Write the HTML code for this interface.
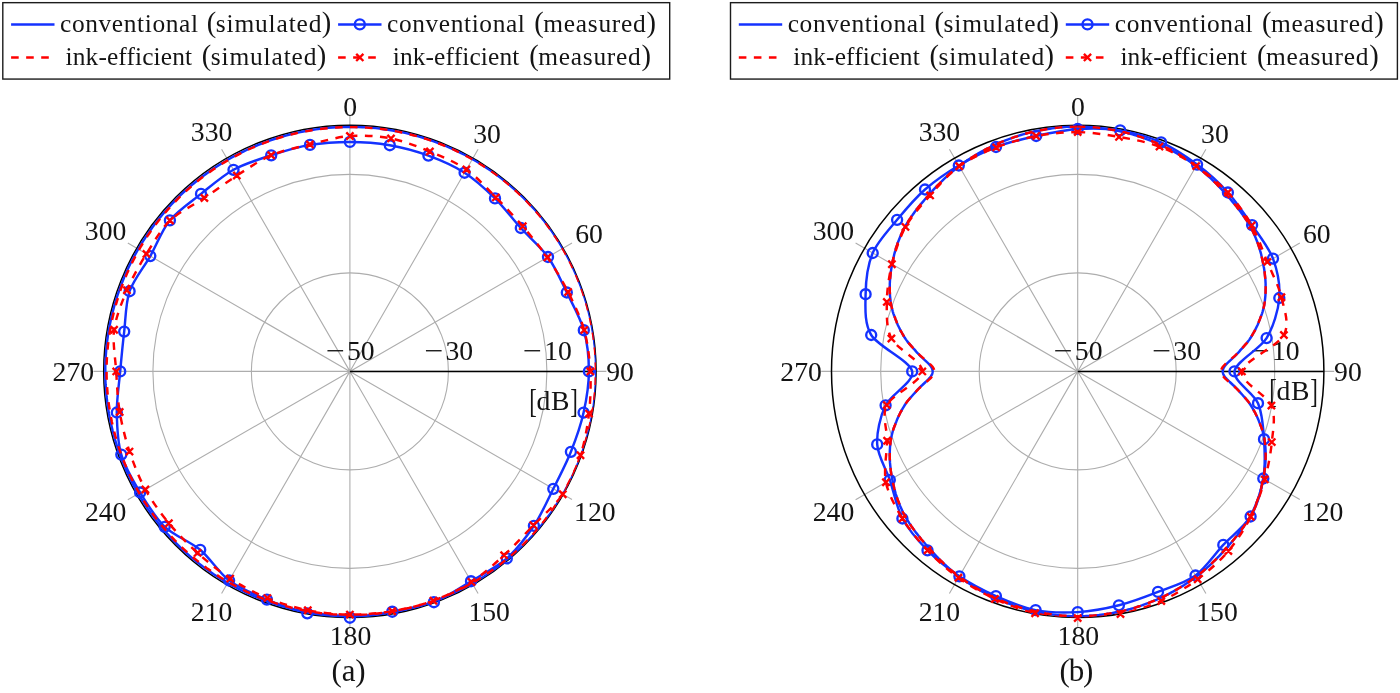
<!DOCTYPE html>
<html lang="en"><head><meta charset="utf-8"><title>Radiation patterns</title>
<style>
html,body{margin:0;padding:0;background:#fff;}
body{width:1400px;height:693px;overflow:hidden;}
svg{display:block;}
text{font-family:"Liberation Serif","DejaVu Serif",serif;fill:#141414;}
.lg text{font-size:25.4px;}
.tk text{font-size:27.7px;}
.cap{font-size:31px;}
</style></head><body>
<svg width="1400" height="693" viewBox="0 0 1400 693">
<rect width="1400" height="693" fill="#fff"/>
<g id="legend-a">
<rect x="2.8" y="2.67" width="666.9" height="76.4" fill="#fff" stroke="#1c1c1c" stroke-width="1.4"/>
<line x1="11.1" y1="24.4" x2="54.5" y2="24.4" stroke="#1432ff" stroke-width="2.45"/>
<line x1="11.1" y1="57.4" x2="54.5" y2="57.4" stroke="#ff0000" stroke-width="2.45" stroke-dasharray="7.6 7.45"/>
<line x1="338.1" y1="24.4" x2="381.5" y2="24.4" stroke="#1432ff" stroke-width="2.45"/>
<circle cx="359.8" cy="24.4" r="5" fill="none" stroke="#1432ff" stroke-width="2.35"/>
<line x1="338.1" y1="57.4" x2="381.5" y2="57.4" stroke="#ff0000" stroke-width="2.45" stroke-dasharray="7.6 7.45"/>
<path d="M356.2 53.8L363.4 61M356.2 61L363.4 53.8" stroke="#ff0000" stroke-width="2.35" fill="none"/>
<g class="lg">
<text><tspan x="60" y="32.0" textLength="138" lengthAdjust="spacing">conventional</tspan> <tspan x="206.7" y="32" font-size="28.5">(</tspan><tspan x="215.8" y="32.0" textLength="105.6" lengthAdjust="spacing">simulated</tspan><tspan x="321.8" y="32" font-size="28.5">)</tspan></text>
<text><tspan x="387.1" y="32.0" textLength="137.8" lengthAdjust="spacing">conventional</tspan> <tspan x="534.2" y="32" font-size="28.5">(</tspan><tspan x="543.2" y="32.0" textLength="102.6" lengthAdjust="spacing">measured</tspan><tspan x="646.6" y="32" font-size="28.5">)</tspan></text>
<text><tspan x="65.6" y="64.9" textLength="126.4" lengthAdjust="spacing">ink-efficient</tspan> <tspan x="201.7" y="64.9" font-size="28.5">(</tspan><tspan x="210.8" y="64.9" textLength="105.6" lengthAdjust="spacing">simulated</tspan><tspan x="316.8" y="64.9" font-size="28.5">)</tspan></text>
<text><tspan x="392.7" y="64.9" textLength="126.6" lengthAdjust="spacing">ink-efficient</tspan> <tspan x="529.2" y="64.9" font-size="28.5">(</tspan><tspan x="538.2" y="64.9" textLength="102.6" lengthAdjust="spacing">measured</tspan><tspan x="641.6" y="64.9" font-size="28.5">)</tspan></text>
</g>
</g>
<g id="legend-b">
<rect x="730.5" y="2.67" width="666.9" height="76.4" fill="#fff" stroke="#1c1c1c" stroke-width="1.4"/>
<line x1="738.8" y1="24.4" x2="782.2" y2="24.4" stroke="#1432ff" stroke-width="2.45"/>
<line x1="738.8" y1="57.4" x2="782.2" y2="57.4" stroke="#ff0000" stroke-width="2.45" stroke-dasharray="7.6 7.45"/>
<line x1="1065.8" y1="24.4" x2="1109.2" y2="24.4" stroke="#1432ff" stroke-width="2.45"/>
<circle cx="1087.5" cy="24.4" r="5" fill="none" stroke="#1432ff" stroke-width="2.35"/>
<line x1="1065.8" y1="57.4" x2="1109.2" y2="57.4" stroke="#ff0000" stroke-width="2.45" stroke-dasharray="7.6 7.45"/>
<path d="M1083.9 53.8L1091.1 61M1083.9 61L1091.1 53.8" stroke="#ff0000" stroke-width="2.35" fill="none"/>
<g class="lg">
<text><tspan x="787.7" y="32.0" textLength="138" lengthAdjust="spacing">conventional</tspan> <tspan x="934.4" y="32" font-size="28.5">(</tspan><tspan x="943.5" y="32.0" textLength="105.6" lengthAdjust="spacing">simulated</tspan><tspan x="1049.5" y="32" font-size="28.5">)</tspan></text>
<text><tspan x="1114.8" y="32.0" textLength="137.8" lengthAdjust="spacing">conventional</tspan> <tspan x="1261.9" y="32" font-size="28.5">(</tspan><tspan x="1270.9" y="32.0" textLength="102.6" lengthAdjust="spacing">measured</tspan><tspan x="1374.3" y="32" font-size="28.5">)</tspan></text>
<text><tspan x="793.3" y="64.9" textLength="126.4" lengthAdjust="spacing">ink-efficient</tspan> <tspan x="929.4" y="64.9" font-size="28.5">(</tspan><tspan x="938.5" y="64.9" textLength="105.6" lengthAdjust="spacing">simulated</tspan><tspan x="1044.5" y="64.9" font-size="28.5">)</tspan></text>
<text><tspan x="1120.4" y="64.9" textLength="126.6" lengthAdjust="spacing">ink-efficient</tspan> <tspan x="1256.9" y="64.9" font-size="28.5">(</tspan><tspan x="1265.9" y="64.9" textLength="102.6" lengthAdjust="spacing">measured</tspan><tspan x="1369.3" y="64.9" font-size="28.5">)</tspan></text>
</g>
</g>
<g id="plot-a">
<path d="M349.9 371.4L349.9 114.9M349.9 371.4L478.1 149.3M349.9 371.4L572 243.1M349.9 371.4L606.4 371.4M349.9 371.4L572 499.6M349.9 371.4L478.1 593.5M349.9 371.4L349.9 627.9M349.9 371.4L221.6 593.5M349.9 371.4L127.8 499.7M349.9 371.4L93.4 371.4M349.9 371.4L127.8 243.1M349.9 371.4L221.6 149.3" stroke="#adadad" stroke-width="1.1" fill="none"/>
<circle cx="349.9" cy="371.4" r="98.5" fill="none" stroke="#adadad" stroke-width="1.1"/>
<circle cx="349.9" cy="371.4" r="197" fill="none" stroke="#adadad" stroke-width="1.1"/>
<line x1="349.9" y1="371.4" x2="596.1" y2="371.4" stroke="#000" stroke-width="1.5"/>
<circle cx="349.9" cy="371.4" r="246.2" fill="none" stroke="#000" stroke-width="1.5"/>
<g class="tk" text-anchor="middle">
<text x="350.1" y="115.6">0</text>
<text x="487.1" y="143">30</text>
<text x="589" y="242.5">60</text>
<text x="620.1" y="380.5">90</text>
<text x="594.8" y="521.4">120</text>
<text x="489.2" y="620.9">150</text>
<text x="350.5" y="645.4">180</text>
<text x="211.6" y="620.9">210</text>
<text x="105.7" y="521.3">240</text>
<text x="73.3" y="380.6">270</text>
<text x="105.6" y="239.6">300</text>
<text x="211.6" y="140.9">330</text>
</g>
<g class="tk">
<text y="359.7"><tspan x="325.9" textLength="19" lengthAdjust="spacingAndGlyphs">−</tspan><tspan x="347">50</tspan></text>
<text y="359.7"><tspan x="424.4" textLength="19" lengthAdjust="spacingAndGlyphs">−</tspan><tspan x="445.5">30</tspan></text>
<text y="359.7"><tspan x="523.1" textLength="19" lengthAdjust="spacingAndGlyphs">−</tspan><tspan x="544.2">10</tspan></text>
<text y="410"><tspan x="529.2" dy="2" font-size="33.5" textLength="7.6" lengthAdjust="spacingAndGlyphs">[</tspan><tspan x="536.5" dy="-2" textLength="33" lengthAdjust="spacing">dB</tspan><tspan x="570.3" dy="2" font-size="33.5" textLength="7.6" lengthAdjust="spacingAndGlyphs">]</tspan></text>
</g>
<clipPath id="clip-a"><circle cx="349.9" cy="371.4" r="246.2"/></clipPath>
<path d="M349.9 126.9L354.2 126.9L358.4 127L362.7 127.2L367 127.4L371.2 127.8L375.5 128.1L379.7 128.6L383.9 129.2L388.2 129.8L392.4 130.5L396.6 131.2L400.8 132L405 132.9L409.1 133.9L413.3 135L417.4 136.1L421.5 137.3L425.6 138.5L429.6 139.9L433.7 141.3L437.7 142.8L441.7 144.3L445.6 145.9L449.5 147.6L453.4 149.4L457.3 151.2L461.1 153.1L465 155L468.7 157L472.5 159.1L476.2 161.3L479.8 163.5L483.4 165.8L487 168.1L490.6 170.5L494.1 173L497.5 175.5L500.9 178.1L504.3 180.7L507.6 183.4L510.9 186.2L514.1 189L517.3 191.9L520.4 194.8L523.5 197.8L526.5 200.8L529.5 203.9L532.4 207.1L535.3 210.3L538.1 213.5L540.8 216.8L543.5 220.1L546.1 223.5L548.7 227L551.2 230.4L553.7 234L556 237.5L558.4 241.1L560.6 244.8L562.8 248.5L565 252.2L567 256L569 259.8L571 263.6L572.8 267.5L574.6 271.4L576.3 275.3L578 279.2L579.6 283.2L581.1 287.2L582.6 291.3L583.9 295.4L585.2 299.5L586.5 303.6L587.6 307.7L588.7 311.9L589.7 316L590.7 320.2L591.5 324.4L592.3 328.7L593 332.9L593.7 337.1L594.2 341.4L594.7 345.7L595.2 349.9L595.5 354.2L595.8 358.5L595.9 362.8L596.1 367.1L596.1 371.4L596.1 375.7L595.9 380L595.8 384.3L595.5 388.6L595.2 392.9L594.7 397.1L594.2 401.4L593.7 405.7L593 409.9L592.3 414.1L591.5 418.4L590.7 422.6L589.7 426.8L588.7 430.9L587.6 435.1L586.5 439.2L585.2 443.3L583.9 447.4L582.6 451.5L581.1 455.6L579.6 459.6L578 463.6L576.3 467.5L574.6 471.4L572.8 475.3L571 479.2L569 483L567 486.8L565 490.6L562.8 494.3L560.6 498L558.4 501.7L556 505.3L553.7 508.8L551.2 512.4L548.7 515.8L546.1 519.3L543.5 522.7L540.8 526L538.1 529.3L535.3 532.5L532.4 535.7L529.5 538.9L526.5 542L523.5 545L520.4 548L517.3 550.9L514.1 553.8L510.9 556.6L507.6 559.4L504.3 562.1L500.9 564.7L497.5 567.3L494.1 569.8L490.6 572.3L487 574.7L483.4 577L479.8 579.3L476.2 581.5L472.5 583.7L468.7 585.8L465 587.8L461.1 589.7L457.3 591.6L453.4 593.4L449.5 595.2L445.6 596.9L441.7 598.5L437.7 600L433.7 601.5L429.6 602.9L425.6 604.3L421.5 605.5L417.4 606.7L413.3 607.8L409.1 608.9L405 609.9L400.8 610.8L396.6 611.6L392.4 612.3L388.2 613L383.9 613.6L379.7 614.2L375.5 614.7L371.2 615L367 615.4L362.7 615.6L358.4 615.8L354.2 615.9L349.9 615.9L345.6 615.8L341.4 615.7L337.1 615.5L332.8 615.3L328.6 614.9L324.4 614.5L320.1 614L315.9 613.4L311.7 612.8L307.5 612.1L303.3 611.3L299.1 610.4L294.9 609.5L290.8 608.5L286.7 607.4L282.5 606.3L278.5 605.1L274.4 603.8L270.4 602.4L266.3 601L262.3 599.5L258.4 597.9L254.4 596.3L250.5 594.6L246.6 592.8L242.8 591L239 589.1L235.2 587.1L231.4 585.1L227.7 583L224.1 580.8L220.4 578.6L216.8 576.3L213.3 574L209.8 571.5L206.3 569.1L202.8 566.5L199.5 563.9L196.1 561.3L192.8 558.6L189.6 555.8L186.4 553L183.2 550.1L180.1 547.2L177.1 544.2L174.1 541.2L171.2 538.1L168.3 534.9L165.4 531.7L162.7 528.5L159.9 525.2L157.3 521.9L154.7 518.5L152.1 515.1L149.7 511.6L147.2 508.1L144.9 504.5L142.6 500.9L140.3 497.3L138.2 493.6L136.1 489.9L134 486.2L132 482.4L130.1 478.6L128.3 474.7L126.5 470.9L124.8 466.9L123.2 463L121.6 459L120.1 455L118.7 451L117.3 447L116 442.9L114.8 438.8L113.7 434.7L112.6 430.6L111.6 426.4L110.7 422.3L109.8 418.1L109 413.9L108.3 409.7L107.7 405.4L107.1 401.2L106.6 397L106.2 392.7L105.9 388.5L105.6 384.2L105.4 379.9L105.3 375.7L105.3 371.4L105.3 367.1L105.4 362.9L105.6 358.6L105.9 354.3L106.2 350.1L106.6 345.8L107.1 341.6L107.7 337.4L108.3 333.1L109 328.9L109.8 324.7L110.7 320.5L111.6 316.4L112.6 312.2L113.7 308.1L114.8 304L116 299.9L117.3 295.8L118.7 291.8L120.1 287.8L121.6 283.8L123.2 279.8L124.8 275.9L126.5 271.9L128.3 268.1L130.1 264.2L132 260.4L134 256.6L136.1 252.9L138.2 249.2L140.3 245.5L142.6 241.9L144.9 238.3L147.2 234.7L149.7 231.2L152.1 227.7L154.7 224.3L157.3 220.9L159.9 217.6L162.7 214.3L165.4 211.1L168.3 207.9L171.2 204.7L174.1 201.6L177.1 198.6L180.1 195.6L183.2 192.7L186.4 189.8L189.6 187L192.8 184.2L196.1 181.5L199.5 178.9L202.8 176.3L206.3 173.7L209.8 171.3L213.3 168.8L216.8 166.5L220.4 164.2L224.1 162L227.7 159.8L231.4 157.7L235.2 155.7L239 153.7L242.8 151.8L246.6 150L250.5 148.2L254.4 146.5L258.4 144.9L262.3 143.3L266.3 141.8L270.4 140.4L274.4 139L278.5 137.7L282.5 136.5L286.7 135.4L290.8 134.3L294.9 133.3L299.1 132.4L303.3 131.5L307.5 130.7L311.7 130L315.9 129.4L320.1 128.8L324.4 128.3L328.6 127.9L332.8 127.5L337.1 127.3L341.4 127.1L345.6 127Z" stroke="#1432ff" fill="none" stroke-width="2.45" stroke-linejoin="round" clip-path="url(#clip-a)"/>
<path d="M349.9 141.9C362.1 141.9 377.8 143.1 389.8 145.2C401.8 147.3 417 151.4 428.4 155.6C439.8 159.8 454.4 166.2 464.6 172.7C474.8 179.3 486.5 190 495 198.4C503.6 206.9 512.7 219.1 520.8 228C528.9 236.9 541 247.2 548 257C555.1 266.8 561.3 281.3 566.8 292.5C572.2 303.6 580.4 318.1 583.8 330.2C587.2 342.2 588.9 358.8 588.9 371.4C588.9 384 586.3 400.3 583.6 412.6C580.9 424.9 575.5 440.2 570.9 451.8C566.3 463.5 559 477.6 553.3 488.8C547.7 500.1 541 515.2 533.9 525.8C526.8 536.4 516.4 549.9 506.8 558.4C497.2 566.8 482.1 574.5 471 581.2C459.9 587.8 445.9 597.5 433.9 602.2C421.9 606.8 405.1 609.3 392.3 611.7C379.5 614.1 362.9 617.5 349.9 617.7C336.9 617.9 319.9 616 307.3 613.3C294.6 610.5 278.8 604.6 266.9 599.6C254.9 594.6 239.3 588.1 229.1 580.5C219 573 210 558 200.2 549.8C190.4 541.6 173.9 535.5 164.7 526.8C155.6 518 146.8 503.5 140.1 492.5C133.5 481.5 124.8 466.8 121.3 454.6C117.7 442.4 117 425.2 116.8 412.5C116.6 399.8 119.1 383.7 120.2 371.4C121.3 359.1 122.7 343.8 124.2 331.6C125.6 319.4 125.7 302.7 129.6 291.2C133.6 279.7 144.1 267 150.3 256.1C156.4 245.3 162.1 229.8 169.9 220.3C177.6 210.8 191.3 201.6 201 193.9C210.7 186.2 222.8 175.7 233.5 169.8C244.2 163.9 259.6 159.1 271.2 155.3C282.9 151.5 298 146.9 310 144.9C322 142.9 337.7 141.9 349.9 141.9Z" stroke="#1432ff" fill="none" stroke-width="2.45" stroke-linejoin="round" clip-path="url(#clip-a)"/>
<g fill="none" stroke="#1432ff" stroke-width="2.35">
<circle cx="349.9" cy="141.9" r="5"/>
<circle cx="389.8" cy="145.2" r="5"/>
<circle cx="428.4" cy="155.6" r="5"/>
<circle cx="464.6" cy="172.7" r="5"/>
<circle cx="495" cy="198.4" r="5"/>
<circle cx="520.8" cy="228" r="5"/>
<circle cx="548" cy="257" r="5"/>
<circle cx="566.8" cy="292.5" r="5"/>
<circle cx="583.8" cy="330.2" r="5"/>
<circle cx="588.9" cy="371.4" r="5"/>
<circle cx="583.6" cy="412.6" r="5"/>
<circle cx="570.9" cy="451.8" r="5"/>
<circle cx="553.3" cy="488.8" r="5"/>
<circle cx="533.9" cy="525.8" r="5"/>
<circle cx="506.8" cy="558.4" r="5"/>
<circle cx="471" cy="581.2" r="5"/>
<circle cx="433.9" cy="602.2" r="5"/>
<circle cx="392.3" cy="611.7" r="5"/>
<circle cx="349.9" cy="617.7" r="5"/>
<circle cx="307.3" cy="613.3" r="5"/>
<circle cx="266.9" cy="599.6" r="5"/>
<circle cx="229.1" cy="580.5" r="5"/>
<circle cx="200.2" cy="549.8" r="5"/>
<circle cx="164.7" cy="526.8" r="5"/>
<circle cx="140.1" cy="492.5" r="5"/>
<circle cx="121.3" cy="454.6" r="5"/>
<circle cx="116.8" cy="412.5" r="5"/>
<circle cx="120.2" cy="371.4" r="5"/>
<circle cx="124.2" cy="331.6" r="5"/>
<circle cx="129.6" cy="291.2" r="5"/>
<circle cx="150.3" cy="256.1" r="5"/>
<circle cx="169.9" cy="220.3" r="5"/>
<circle cx="201" cy="193.9" r="5"/>
<circle cx="233.5" cy="169.8" r="5"/>
<circle cx="271.2" cy="155.3" r="5"/>
<circle cx="310" cy="144.9" r="5"/>
</g>
<path d="M349.9 127.1L354.2 127.1L358.4 127.2L362.7 127.4L366.9 127.6L371.2 128L375.4 128.3L379.7 128.8L383.9 129.3L388.1 130L392.4 130.6L396.6 131.4L400.7 132.2L404.9 133.1L409.1 134.1L413.2 135.2L417.3 136.3L421.4 137.5L425.5 138.7L429.6 140.1L433.6 141.5L437.6 143L441.6 144.5L445.5 146.1L449.5 147.8L453.4 149.5L457.2 151.4L461.1 153.2L464.9 155.2L468.6 157.2L472.4 159.3L476.1 161.4L479.7 163.6L483.3 165.9L486.9 168.3L490.5 170.7L494 173.1L497.4 175.6L500.8 178.2L504.2 180.9L507.5 183.6L510.8 186.3L514 189.2L517.2 192L520.3 195L523.4 197.9L526.4 201L529.3 204.1L532.3 207.2L535.1 210.4L537.9 213.6L540.7 216.9L543.3 220.3L546 223.6L548.5 227.1L551.1 230.6L553.5 234.1L555.9 237.6L558.2 241.2L560.5 244.9L562.7 248.6L564.8 252.3L566.8 256L568.8 259.8L570.8 263.7L572.6 267.5L574.4 271.4L576.2 275.4L577.8 279.3L579.4 283.3L580.9 287.3L582.4 291.4L583.7 295.4L585 299.5L586.3 303.6L587.4 307.8L588.5 311.9L589.5 316.1L590.5 320.3L591.3 324.5L592.1 328.7L592.8 332.9L593.5 337.2L594 341.4L594.5 345.7L595 350L595.3 354.2L595.6 358.5L595.7 362.8L595.9 367.1L595.9 371.4L595.9 375.7L595.7 380L595.6 384.3L595.3 388.6L594.9 392.8L594.5 397.1L594 401.4L593.5 405.6L592.8 409.9L592.1 414.1L591.3 418.3L590.4 422.5L589.5 426.7L588.5 430.9L587.4 435L586.2 439.2L585 443.3L583.7 447.4L582.3 451.4L580.8 455.5L579.3 459.5L577.7 463.4L576 467.4L574.3 471.3L572.5 475.2L570.6 479.1L568.7 482.9L566.7 486.7L564.6 490.4L562.5 494.1L560.3 497.8L558 501.4L555.7 505L553.3 508.6L550.8 512.1L548.3 515.6L545.7 519L543.1 522.4L540.4 525.7L537.7 529L534.9 532.2L532 535.4L529.1 538.5L526.1 541.6L523.1 544.6L520 547.5L516.9 550.5L513.7 553.3L510.5 556.1L507.2 558.9L503.9 561.5L500.5 564.2L497.1 566.7L493.6 569.3L490.1 571.7L486.6 574.1L483 576.4L479.4 578.7L475.8 580.9L472.1 583L468.3 585.1L464.6 587.1L460.8 589L456.9 590.9L453.1 592.7L449.2 594.4L445.3 596.1L441.3 597.7L437.3 599.2L433.3 600.7L429.3 602.1L425.3 603.4L421.2 604.6L417.1 605.8L413 606.9L408.9 608L404.7 608.9L400.6 609.8L396.4 610.6L392.2 611.4L388 612.1L383.8 612.7L379.6 613.2L375.4 613.7L371.1 614.1L366.9 614.4L362.6 614.6L358.4 614.8L354.1 614.9L349.9 614.9L345.7 614.8L341.4 614.7L337.2 614.5L332.9 614.3L328.7 613.9L324.5 613.5L320.2 613L316 612.4L311.8 611.8L307.6 611.1L303.5 610.3L299.3 609.4L295.2 608.5L291 607.5L286.9 606.4L282.8 605.3L278.8 604.1L274.7 602.8L270.7 601.4L266.7 600L262.7 598.5L258.8 597L254.8 595.3L251 593.6L247.1 591.9L243.3 590L239.5 588.1L235.7 586.2L232 584.2L228.3 582.1L224.6 579.9L221 577.7L217.4 575.4L213.9 573.1L210.4 570.6L206.9 568.2L203.5 565.7L200.1 563.1L196.8 560.4L193.6 557.7L190.3 555L187.1 552.2L184 549.3L180.9 546.4L177.9 543.4L174.9 540.4L172 537.3L169.1 534.2L166.3 531L163.6 527.8L160.9 524.5L158.2 521.2L155.6 517.8L153.1 514.4L150.6 510.9L148.2 507.4L145.9 503.9L143.6 500.3L141.4 496.7L139.2 493L137.1 489.3L135.1 485.6L133.2 481.8L131.3 478L129.4 474.2L127.7 470.3L126 466.5L124.3 462.5L122.8 458.6L121.3 454.6L119.9 450.6L118.5 446.6L117.2 442.5L116 438.5L114.9 434.4L113.8 430.3L112.8 426.1L111.9 422L111.1 417.8L110.3 413.6L109.6 409.5L109 405.3L108.4 401.1L107.9 396.8L107.5 392.6L107.2 388.4L106.9 384.1L106.7 379.9L106.6 375.6L106.6 371.4L106.6 367.2L106.7 362.9L106.9 358.7L107.2 354.4L107.5 350.2L107.9 346L108.4 341.7L109 337.5L109.6 333.3L110.3 329.1L111 325L111.9 320.8L112.8 316.7L113.8 312.5L114.9 308.4L116 304.3L117.2 300.3L118.5 296.2L119.8 292.2L121.2 288.2L122.7 284.2L124.2 280.2L125.9 276.3L127.5 272.4L129.3 268.5L131.1 264.7L133 260.9L135 257.1L137 253.4L139.1 249.7L141.2 246L143.4 242.4L145.7 238.8L148 235.2L150.4 231.7L152.9 228.3L155.4 224.8L158 221.5L160.6 218.1L163.3 214.8L166.1 211.6L168.9 208.4L171.7 205.3L174.7 202.2L177.6 199.1L180.6 196.1L183.7 193.2L186.8 190.3L190 187.5L193.3 184.7L196.5 182L199.8 179.3L203.2 176.7L206.6 174.2L210.1 171.7L213.6 169.3L217.1 166.9L220.7 164.6L224.3 162.4L228 160.2L231.7 158.1L235.4 156.1L239.2 154.1L243 152.2L246.8 150.3L250.7 148.5L254.6 146.8L258.5 145.2L262.5 143.6L266.4 142.1L270.5 140.7L274.5 139.3L278.5 138L282.6 136.8L286.7 135.6L290.8 134.6L295 133.5L299.1 132.6L303.3 131.7L307.5 131L311.7 130.2L315.9 129.6L320.1 129L324.4 128.5L328.6 128.1L332.9 127.8L337.1 127.5L341.4 127.3L345.6 127.2Z" stroke="#ff0000" fill="none" stroke-width="2.45" stroke-linejoin="round" clip-path="url(#clip-a)" stroke-dasharray="7.6 7.45"/>
<path d="M349.9 136C362.3 135.1 378.8 136 391 138.4C403.2 140.8 418.4 146.8 429.9 151.5C441.4 156.3 456.4 162.5 466.4 169.5C476.5 176.5 487.3 188.8 495.9 197.4C504.5 206.1 514.9 217.2 522.8 226.3C530.7 235.5 540.4 247.4 547.4 257.4C554.3 267.4 562.5 280.9 568.1 292C573.7 303.1 580.8 318 584.2 330.1C587.6 342.2 589.6 358.7 590.3 371.4C591 384.1 590.5 400.8 589 413.6C587.5 426.4 584.5 443 580.5 455.3C576.5 467.7 570 483.6 562.8 494.3C555.6 505 542.3 516.1 533.4 525.3C524.4 534.6 513.5 546.5 504.1 555.2C494.7 563.8 482.3 575.1 471.5 582C460.7 589 445.5 596.3 433.4 600.8C421.3 605.2 404.9 609.1 392.2 611.2C379.4 613.3 362.8 614.7 349.9 614.6C337 614.5 320.4 612.8 307.8 610.3C295.2 607.8 279.2 603 267.4 598.1C255.5 593.3 240.9 585.5 230.2 578.6C219.6 571.7 207 561.3 197.6 552.9C188.3 544.4 176.8 533 168.9 523.3C160.9 513.6 151.4 500.4 145.4 489.5C139.4 478.5 133.5 463.4 129.5 451.6C125.6 439.8 121.7 424.2 119.7 412C117.6 399.8 117 383.9 116.2 371.4C115.4 358.9 112.5 342.2 114.1 329.8C115.8 317.4 122 301.8 126.9 290.2C131.8 278.7 139.8 264.5 146.4 253.9C153 243.3 161.2 229 170 220.5C178.9 211.9 194.2 204.9 204.4 198C214.6 191.2 226.7 182.1 236.8 175.6C247 169.1 260.1 160 271.2 155.3C282.4 150.5 297.9 147.3 309.9 144.4C321.9 141.5 337.5 136.9 349.9 136Z" stroke="#ff0000" fill="none" stroke-width="2.45" stroke-linejoin="round" clip-path="url(#clip-a)" stroke-dasharray="7.6 7.45"/>
<path d="M346.3 132.4L353.5 139.6M346.3 139.6L353.5 132.4M387.4 134.8L394.6 142M387.4 142L394.6 134.8M426.3 147.9L433.5 155.1M426.3 155.1L433.5 147.9M462.8 165.9L470 173.1M462.8 173.1L470 165.9M492.3 193.8L499.5 201M492.3 201L499.5 193.8M519.2 222.7L526.4 229.9M519.2 229.9L526.4 222.7M543.8 253.8L551 261M543.8 261L551 253.8M564.5 288.4L571.7 295.6M564.5 295.6L571.7 288.4M580.6 326.5L587.8 333.7M580.6 333.7L587.8 326.5M586.7 367.8L593.9 375M586.7 375L593.9 367.8M585.4 410L592.6 417.2M585.4 417.2L592.6 410M576.9 451.7L584.1 458.9M576.9 458.9L584.1 451.7M559.2 490.7L566.4 497.9M559.2 497.9L566.4 490.7M529.8 521.7L537 528.9M529.8 528.9L537 521.7M500.5 551.6L507.7 558.8M500.5 558.8L507.7 551.6M467.9 578.4L475.1 585.6M467.9 585.6L475.1 578.4M429.8 597.2L437 604.4M429.8 604.4L437 597.2M388.6 607.6L395.8 614.8M388.6 614.8L395.8 607.6M346.3 611L353.5 618.2M346.3 618.2L353.5 611M304.2 606.7L311.4 613.9M304.2 613.9L311.4 606.7M263.8 594.5L271 601.7M263.8 601.7L271 594.5M226.6 575L233.8 582.2M226.6 582.2L233.8 575M194 549.3L201.2 556.5M194 556.5L201.2 549.3M165.3 519.7L172.5 526.9M165.3 526.9L172.5 519.7M141.8 485.9L149 493.1M141.8 493.1L149 485.9M125.9 448L133.1 455.2M125.9 455.2L133.1 448M116.1 408.4L123.3 415.6M116.1 415.6L123.3 408.4M112.6 367.8L119.8 375M112.6 375L119.8 367.8M110.5 326.2L117.7 333.4M110.5 333.4L117.7 326.2M123.3 286.6L130.5 293.8M123.3 293.8L130.5 286.6M142.8 250.3L150 257.5M142.8 257.5L150 250.3M166.4 216.9L173.6 224.1M166.4 224.1L173.6 216.9M200.8 194.4L208 201.6M200.8 201.6L208 194.4M233.2 172L240.4 179.2M233.2 179.2L240.4 172M267.6 151.7L274.8 158.9M267.6 158.9L274.8 151.7M306.3 140.8L313.5 148M306.3 148L313.5 140.8" stroke="#ff0000" stroke-width="2.35" fill="none"/>
<text class="cap" text-anchor="middle" x="348.6" y="680.6" textLength="34" lengthAdjust="spacing">(a)</text>
</g>
<g id="plot-b">
<path d="M1077.7 371.4L1077.7 114.9M1077.7 371.4L1205.9 149.3M1077.7 371.4L1299.8 243.1M1077.7 371.4L1334.2 371.4M1077.7 371.4L1299.8 499.6M1077.7 371.4L1205.9 593.5M1077.7 371.4L1077.7 627.9M1077.7 371.4L949.4 593.5M1077.7 371.4L855.6 499.7M1077.7 371.4L821.2 371.4M1077.7 371.4L855.6 243.1M1077.7 371.4L949.4 149.3" stroke="#adadad" stroke-width="1.1" fill="none"/>
<circle cx="1077.7" cy="371.4" r="98.5" fill="none" stroke="#adadad" stroke-width="1.1"/>
<circle cx="1077.7" cy="371.4" r="197" fill="none" stroke="#adadad" stroke-width="1.1"/>
<line x1="1077.7" y1="371.4" x2="1323.9" y2="371.4" stroke="#000" stroke-width="1.5"/>
<circle cx="1077.7" cy="371.4" r="246.2" fill="none" stroke="#000" stroke-width="1.5"/>
<g class="tk" text-anchor="middle">
<text x="1077.9" y="115.6">0</text>
<text x="1214.9" y="143">30</text>
<text x="1316.8" y="242.5">60</text>
<text x="1347.9" y="380.5">90</text>
<text x="1322.6" y="521.4">120</text>
<text x="1217" y="620.9">150</text>
<text x="1078.3" y="645.4">180</text>
<text x="939.4" y="620.9">210</text>
<text x="833.5" y="521.3">240</text>
<text x="801.1" y="380.6">270</text>
<text x="833.4" y="239.6">300</text>
<text x="939.4" y="140.9">330</text>
</g>
<g class="tk">
<text y="359.7"><tspan x="1053.7" textLength="19" lengthAdjust="spacingAndGlyphs">−</tspan><tspan x="1074.8">50</tspan></text>
<text y="359.7"><tspan x="1152.2" textLength="19" lengthAdjust="spacingAndGlyphs">−</tspan><tspan x="1173.3">30</tspan></text>
<text y="359.7"><tspan x="1250.9" textLength="19" lengthAdjust="spacingAndGlyphs">−</tspan><tspan x="1272">10</tspan></text>
<text y="400.2"><tspan x="1269.2" dy="2" font-size="33.5" textLength="7.6" lengthAdjust="spacingAndGlyphs">[</tspan><tspan x="1276.5" dy="-2" textLength="33" lengthAdjust="spacing">dB</tspan><tspan x="1310.3" dy="2" font-size="33.5" textLength="7.6" lengthAdjust="spacingAndGlyphs">]</tspan></text>
</g>
<clipPath id="clip-b"><circle cx="1077.7" cy="371.4" r="246.2"/></clipPath>
<path d="M1077.7 126.6L1079.8 126.6L1082 126.7L1084.1 126.7L1086.2 126.8L1088.4 126.9L1090.5 127.1L1092.6 127.2L1094.8 127.4L1096.9 127.6L1099 127.8L1101.1 128.1L1103.2 128.4L1105.4 128.7L1107.5 129L1109.6 129.3L1111.7 129.7L1113.8 130.1L1115.9 130.5L1118 130.9L1120 131.3L1122.1 131.8L1124.2 132.2L1126.3 132.7L1128.3 133.3L1130.4 133.8L1132.4 134.4L1134.5 135L1136.5 135.6L1138.5 136.3L1140.5 136.9L1142.5 137.6L1144.5 138.4L1146.5 139.1L1148.5 139.8L1150.5 140.6L1152.4 141.4L1154.4 142.2L1156.3 143L1158.3 143.9L1160.2 144.7L1162.1 145.6L1164 146.5L1165.9 147.5L1167.8 148.4L1169.7 149.4L1171.5 150.4L1173.4 151.4L1175.2 152.4L1177 153.4L1178.8 154.5L1180.6 155.6L1182.4 156.7L1184.2 157.8L1185.9 159L1187.7 160.1L1189.4 161.3L1191.1 162.5L1192.8 163.7L1194.5 164.9L1196.2 166.2L1197.9 167.4L1199.5 168.7L1201.1 170L1202.7 171.3L1204.3 172.7L1205.9 174L1207.4 175.4L1209 176.8L1210.5 178.2L1212 179.6L1213.5 181.1L1214.9 182.5L1216.4 184L1217.8 185.4L1219.3 186.9L1220.7 188.4L1222.1 189.9L1223.4 191.4L1224.8 192.9L1226.2 194.4L1227.5 196L1228.9 197.5L1230.2 199L1231.5 200.6L1232.8 202.1L1234.1 203.6L1235.4 205.2L1236.7 206.8L1237.9 208.4L1239.2 209.9L1240.4 211.5L1241.6 213.2L1242.7 214.8L1243.9 216.4L1245 218.1L1246.1 219.7L1247.2 221.4L1248.3 223.1L1249.3 224.8L1250.3 226.6L1251.3 228.3L1252.2 230.1L1253.1 231.9L1253.9 233.7L1254.7 235.6L1255.5 237.4L1256.2 239.3L1257 241.2L1257.7 243L1258.3 244.9L1259 246.8L1259.6 248.7L1260.1 250.6L1260.7 252.6L1261.2 254.5L1261.6 256.5L1262.1 258.4L1262.5 260.4L1262.9 262.3L1263.3 264.2L1263.6 266.2L1264 268.1L1264.3 270.1L1264.6 272L1264.8 274L1265 276L1265.2 277.9L1265.4 279.9L1265.5 281.8L1265.6 283.8L1265.6 285.8L1265.7 287.7L1265.6 289.7L1265.6 291.6L1265.5 293.6L1265.4 295.6L1265.2 297.5L1265 299.5L1264.8 301.4L1264.5 303.4L1264.2 305.4L1263.7 307.3L1263.2 309.3L1262.7 311.3L1262.1 313.3L1261.4 315.3L1260.6 317.2L1259.9 319.2L1259.1 321.1L1258.4 323L1257.6 324.9L1256.7 326.8L1255.8 328.6L1254.9 330.5L1253.8 332.3L1252.8 334.2L1251.7 336L1250.6 337.8L1249.4 339.6L1248.1 341.4L1246.7 343.1L1245.1 344.9L1243.6 346.6L1242.1 348.3L1240.6 349.9L1239.2 351.6L1237.8 353.2L1236.3 354.7L1234.7 356.3L1233 357.8L1231.4 359.3L1229.8 360.8L1228.4 362.2L1226.9 363.6L1225.7 364.9L1224.6 366.3L1223.8 367.6L1223.2 368.9L1222.9 370.1L1222.7 371.4L1222.9 372.7L1223.2 373.9L1223.8 375.2L1224.6 376.5L1225.7 377.9L1226.9 379.2L1228.4 380.6L1229.8 382L1231.4 383.5L1233 385L1234.7 386.5L1236.3 388.1L1237.8 389.6L1239.2 391.2L1240.6 392.9L1242.1 394.5L1243.6 396.2L1245.1 397.9L1246.7 399.7L1248.1 401.4L1249.4 403.2L1250.6 405L1251.7 406.8L1252.8 408.6L1253.8 410.5L1254.9 412.3L1255.8 414.2L1256.7 416L1257.6 417.9L1258.4 419.8L1259.1 421.7L1259.9 423.6L1260.6 425.6L1261.4 427.5L1262.1 429.5L1262.7 431.5L1263.2 433.5L1263.7 435.5L1264.2 437.4L1264.5 439.4L1264.8 441.4L1265 443.3L1265.2 445.3L1265.4 447.2L1265.5 449.2L1265.6 451.2L1265.6 453.1L1265.7 455.1L1265.6 457L1265.6 459L1265.5 461L1265.4 462.9L1265.2 464.9L1265 466.8L1264.8 468.8L1264.6 470.8L1264.3 472.7L1264 474.7L1263.6 476.6L1263.3 478.5L1262.9 480.5L1262.5 482.4L1262.1 484.4L1261.6 486.3L1261.2 488.3L1260.7 490.2L1260.1 492.2L1259.6 494.1L1259 496L1258.3 497.9L1257.7 499.8L1257 501.6L1256.2 503.5L1255.5 505.4L1254.7 507.2L1253.9 509.1L1253.1 510.9L1252.2 512.7L1251.3 514.5L1250.3 516.2L1249.3 518L1248.3 519.7L1247.2 521.4L1246.1 523.1L1245 524.7L1243.9 526.4L1242.7 528L1241.6 529.6L1240.4 531.3L1239.2 532.9L1237.9 534.4L1236.7 536L1235.4 537.6L1234.1 539.2L1232.8 540.7L1231.5 542.2L1230.2 543.8L1228.9 545.3L1227.5 546.8L1226.2 548.4L1224.8 549.9L1223.4 551.4L1222.1 552.9L1220.7 554.4L1219.3 555.9L1217.8 557.4L1216.4 558.8L1214.9 560.3L1213.5 561.7L1212 563.2L1210.5 564.6L1209 566L1207.4 567.4L1205.9 568.8L1204.3 570.1L1202.7 571.5L1201.1 572.8L1199.5 574.1L1197.9 575.4L1196.2 576.6L1194.5 577.9L1192.8 579.1L1191.1 580.3L1189.4 581.5L1187.7 582.7L1185.9 583.8L1184.2 585L1182.4 586.1L1180.6 587.2L1178.8 588.3L1177 589.4L1175.2 590.4L1173.4 591.4L1171.5 592.4L1169.7 593.4L1167.8 594.4L1165.9 595.3L1164 596.3L1162.1 597.2L1160.2 598.1L1158.3 598.9L1156.3 599.8L1154.4 600.6L1152.4 601.4L1150.5 602.2L1148.5 603L1146.5 603.7L1144.5 604.4L1142.5 605.2L1140.5 605.9L1138.5 606.5L1136.5 607.2L1134.5 607.8L1132.4 608.4L1130.4 609L1128.3 609.5L1126.3 610.1L1124.2 610.6L1122.1 611L1120 611.5L1118 611.9L1115.9 612.3L1113.8 612.7L1111.7 613.1L1109.6 613.5L1107.5 613.8L1105.4 614.1L1103.2 614.4L1101.1 614.7L1099 615L1096.9 615.2L1094.8 615.4L1092.6 615.6L1090.5 615.7L1088.4 615.9L1086.2 616L1084.1 616.1L1082 616.1L1079.8 616.2L1077.7 616.2L1075.6 616.2L1073.4 616.1L1071.3 616.1L1069.2 616L1067 615.9L1064.9 615.7L1062.8 615.6L1060.6 615.4L1058.5 615.2L1056.4 615L1054.3 614.7L1052.2 614.4L1050 614.1L1047.9 613.8L1045.8 613.5L1043.7 613.1L1041.6 612.7L1039.5 612.3L1037.4 611.9L1035.4 611.5L1033.3 611L1031.2 610.6L1029.1 610.1L1027.1 609.5L1025 609L1023 608.4L1020.9 607.8L1018.9 607.2L1016.9 606.5L1014.9 605.9L1012.9 605.2L1010.9 604.4L1008.9 603.7L1006.9 603L1004.9 602.2L1003 601.4L1001 600.6L999.1 599.8L997.1 598.9L995.2 598.1L993.3 597.2L991.4 596.3L989.5 595.3L987.6 594.4L985.7 593.4L983.9 592.4L982 591.4L980.2 590.4L978.4 589.4L976.6 588.3L974.8 587.2L973 586.1L971.2 585L969.5 583.8L967.7 582.7L966 581.5L964.3 580.3L962.6 579.1L960.9 577.9L959.2 576.6L957.5 575.4L955.9 574.1L954.3 572.8L952.7 571.5L951.1 570.1L949.5 568.8L948 567.4L946.4 566L944.9 564.6L943.4 563.2L941.9 561.7L940.5 560.3L939 558.8L937.6 557.4L936.1 555.9L934.7 554.4L933.3 552.9L932 551.4L930.6 549.9L929.2 548.4L927.9 546.8L926.5 545.3L925.2 543.8L923.9 542.2L922.6 540.7L921.3 539.2L920 537.6L918.7 536L917.5 534.4L916.2 532.9L915 531.3L913.8 529.6L912.7 528L911.5 526.4L910.4 524.7L909.3 523.1L908.2 521.4L907.1 519.7L906.1 518L905.1 516.2L904.1 514.5L903.2 512.7L902.3 510.9L901.5 509.1L900.7 507.2L899.9 505.4L899.2 503.5L898.4 501.6L897.7 499.8L897.1 497.9L896.4 496L895.8 494.1L895.3 492.2L894.7 490.2L894.2 488.3L893.8 486.3L893.3 484.4L892.9 482.4L892.5 480.5L892.1 478.6L891.8 476.6L891.4 474.7L891.1 472.7L890.8 470.8L890.6 468.8L890.4 466.8L890.2 464.9L890 462.9L889.9 461L889.8 459L889.8 457L889.7 455.1L889.8 453.1L889.8 451.2L889.9 449.2L890 447.2L890.2 445.3L890.4 443.3L890.6 441.4L890.9 439.4L891.2 437.4L891.7 435.5L892.2 433.5L892.7 431.5L893.3 429.5L894 427.5L894.8 425.6L895.5 423.6L896.3 421.7L897 419.8L897.8 417.9L898.7 416L899.6 414.2L900.5 412.3L901.6 410.5L902.6 408.6L903.7 406.8L904.8 405L906 403.2L907.3 401.4L908.7 399.7L910.3 397.9L911.8 396.2L913.3 394.5L914.8 392.9L916.2 391.2L917.6 389.6L919.1 388.1L920.7 386.5L922.4 385L924 383.5L925.6 382L927 380.6L928.5 379.2L929.7 377.9L930.8 376.5L931.6 375.2L932.2 373.9L932.5 372.7L932.7 371.4L932.5 370.1L932.2 368.9L931.6 367.6L930.8 366.3L929.7 364.9L928.5 363.6L927 362.2L925.6 360.8L924 359.3L922.4 357.8L920.7 356.3L919.1 354.7L917.6 353.2L916.2 351.6L914.8 349.9L913.3 348.3L911.8 346.6L910.3 344.9L908.7 343.1L907.3 341.4L906 339.6L904.8 337.8L903.7 336L902.6 334.2L901.6 332.3L900.5 330.5L899.6 328.6L898.7 326.8L897.8 324.9L897 323L896.3 321.1L895.5 319.2L894.8 317.2L894 315.3L893.3 313.3L892.7 311.3L892.2 309.3L891.7 307.3L891.2 305.4L890.9 303.4L890.6 301.4L890.4 299.5L890.2 297.5L890 295.6L889.9 293.6L889.8 291.6L889.8 289.7L889.7 287.7L889.8 285.8L889.8 283.8L889.9 281.8L890 279.9L890.2 277.9L890.4 276L890.6 274L890.8 272L891.1 270.1L891.4 268.1L891.8 266.2L892.1 264.2L892.5 262.3L892.9 260.4L893.3 258.4L893.8 256.5L894.2 254.5L894.7 252.6L895.3 250.6L895.8 248.7L896.4 246.8L897.1 244.9L897.7 243L898.4 241.2L899.2 239.3L899.9 237.4L900.7 235.6L901.5 233.7L902.3 231.9L903.2 230.1L904.1 228.3L905.1 226.6L906.1 224.8L907.1 223.1L908.2 221.4L909.3 219.7L910.4 218.1L911.5 216.4L912.7 214.8L913.8 213.2L915 211.5L916.2 209.9L917.5 208.4L918.7 206.8L920 205.2L921.3 203.6L922.6 202.1L923.9 200.6L925.2 199L926.5 197.5L927.9 196L929.2 194.4L930.6 192.9L932 191.4L933.3 189.9L934.7 188.4L936.1 186.9L937.6 185.4L939 184L940.5 182.5L941.9 181.1L943.4 179.6L944.9 178.2L946.4 176.8L948 175.4L949.5 174L951.1 172.7L952.7 171.3L954.3 170L955.9 168.7L957.5 167.4L959.2 166.2L960.9 164.9L962.6 163.7L964.3 162.5L966 161.3L967.7 160.1L969.5 159L971.2 157.8L973 156.7L974.8 155.6L976.6 154.5L978.4 153.4L980.2 152.4L982 151.4L983.9 150.4L985.7 149.4L987.6 148.4L989.5 147.5L991.4 146.5L993.3 145.6L995.2 144.7L997.1 143.9L999.1 143L1001 142.2L1003 141.4L1004.9 140.6L1006.9 139.8L1008.9 139.1L1010.9 138.4L1012.9 137.6L1014.9 136.9L1016.9 136.3L1018.9 135.6L1020.9 135L1023 134.4L1025 133.8L1027.1 133.3L1029.1 132.7L1031.2 132.2L1033.3 131.8L1035.4 131.3L1037.4 130.9L1039.5 130.5L1041.6 130.1L1043.7 129.7L1045.8 129.3L1047.9 129L1050 128.7L1052.2 128.4L1054.3 128.1L1056.4 127.8L1058.5 127.6L1060.6 127.4L1062.8 127.2L1064.9 127.1L1067 126.9L1069.2 126.8L1071.3 126.7L1073.4 126.7L1075.6 126.6Z" stroke="#1432ff" fill="none" stroke-width="2.45" stroke-linejoin="round" clip-path="url(#clip-b)"/>
<path d="M1077.7 129C1090.5 128.1 1107.5 128.4 1120.2 130.4C1132.9 132.5 1149.3 137.2 1161.1 142.4C1172.8 147.6 1186.9 157 1197.1 164.6C1207.3 172.2 1219.5 183.2 1227.9 192.5C1236.2 201.7 1245.2 215 1252.1 225.1C1258.9 235.2 1268.8 247.5 1273 258.6C1277.1 269.8 1280.2 285.9 1279.3 298C1278.3 310.2 1273.4 326.9 1266.6 338.1C1259.8 349.3 1235.8 361.5 1234.5 371.4C1233.2 381.3 1253.5 392.8 1258 403.2C1262.5 413.5 1263.2 427.7 1264 439.2C1264.8 450.7 1265.3 466.8 1263.3 478.5C1261.2 490.3 1256.7 506.4 1250.6 516.5C1244.5 526.6 1231.7 535.9 1223.3 544.9C1214.9 553.9 1205.5 568.3 1195.5 575.5C1185.6 582.7 1169.7 587.4 1158 591.9C1146.3 596.5 1131.2 602.2 1118.9 605.3C1106.7 608.4 1090.4 611.4 1077.7 612.1C1065 612.8 1048.1 612.6 1035.6 610.1C1023.1 607.7 1007.6 601.2 995.9 596.1C984.3 590.9 969.8 583.3 959.4 576.3C949 569.3 936.2 559.2 927.5 550.3C918.9 541.5 908.2 529.2 902.4 518.5C896.7 507.7 893.6 491.2 889.8 479.9C885.9 468.6 877.8 455.8 877.2 444.4C876.5 433 880.2 416.4 885.6 405.3C890.9 394.1 914.4 382.1 912.2 371.4C910 360.7 878.3 346.8 871.2 335C864.1 323.2 865.4 306.7 865.6 294.2C865.8 281.7 867.9 264.4 872.7 253C877.5 241.7 889.1 229.5 897.1 219.8C905.1 210.1 915.6 197.8 925 189.5C934.5 181.2 948 171.9 958.8 165.5C969.6 159 984.2 151.5 996 147C1007.8 142.5 1023.7 138.8 1036.2 136C1048.7 133.3 1064.9 129.9 1077.7 129Z" stroke="#1432ff" fill="none" stroke-width="2.45" stroke-linejoin="round" clip-path="url(#clip-b)"/>
<g fill="none" stroke="#1432ff" stroke-width="2.35">
<circle cx="1077.7" cy="129" r="5"/>
<circle cx="1120.2" cy="130.4" r="5"/>
<circle cx="1161.1" cy="142.4" r="5"/>
<circle cx="1197.1" cy="164.6" r="5"/>
<circle cx="1227.9" cy="192.5" r="5"/>
<circle cx="1252.1" cy="225.1" r="5"/>
<circle cx="1273" cy="258.6" r="5"/>
<circle cx="1279.3" cy="298" r="5"/>
<circle cx="1266.6" cy="338.1" r="5"/>
<circle cx="1234.5" cy="371.4" r="5"/>
<circle cx="1258" cy="403.2" r="5"/>
<circle cx="1264" cy="439.2" r="5"/>
<circle cx="1263.3" cy="478.5" r="5"/>
<circle cx="1250.6" cy="516.5" r="5"/>
<circle cx="1223.3" cy="544.9" r="5"/>
<circle cx="1195.5" cy="575.5" r="5"/>
<circle cx="1158" cy="591.9" r="5"/>
<circle cx="1118.9" cy="605.3" r="5"/>
<circle cx="1077.7" cy="612.1" r="5"/>
<circle cx="1035.6" cy="610.1" r="5"/>
<circle cx="995.9" cy="596.1" r="5"/>
<circle cx="959.4" cy="576.3" r="5"/>
<circle cx="927.5" cy="550.3" r="5"/>
<circle cx="902.4" cy="518.5" r="5"/>
<circle cx="889.8" cy="479.9" r="5"/>
<circle cx="877.2" cy="444.4" r="5"/>
<circle cx="885.6" cy="405.3" r="5"/>
<circle cx="912.2" cy="371.4" r="5"/>
<circle cx="871.2" cy="335" r="5"/>
<circle cx="865.6" cy="294.2" r="5"/>
<circle cx="872.7" cy="253" r="5"/>
<circle cx="897.1" cy="219.8" r="5"/>
<circle cx="925" cy="189.5" r="5"/>
<circle cx="958.8" cy="165.5" r="5"/>
<circle cx="996" cy="147" r="5"/>
<circle cx="1036.2" cy="136" r="5"/>
</g>
<path d="M1077.7 126.6L1079.8 126.6L1082 126.7L1084.1 126.7L1086.2 126.8L1088.4 126.9L1090.5 127.1L1092.6 127.2L1094.8 127.4L1096.9 127.6L1099 127.8L1101.1 128.1L1103.2 128.4L1105.4 128.7L1107.5 129L1109.6 129.3L1111.7 129.7L1113.8 130.1L1115.9 130.5L1118 130.9L1120 131.3L1122.1 131.8L1124.2 132.2L1126.3 132.7L1128.3 133.3L1130.4 133.8L1132.4 134.4L1134.5 135L1136.5 135.6L1138.5 136.3L1140.5 136.9L1142.5 137.6L1144.5 138.4L1146.5 139.1L1148.5 139.8L1150.5 140.6L1152.4 141.4L1154.4 142.2L1156.3 143L1158.3 143.9L1160.2 144.7L1162.1 145.6L1164 146.5L1165.9 147.5L1167.8 148.4L1169.7 149.4L1171.5 150.4L1173.4 151.4L1175.2 152.4L1177 153.4L1178.8 154.5L1180.6 155.6L1182.4 156.7L1184.2 157.8L1185.9 159L1187.7 160.1L1189.4 161.3L1191.1 162.5L1192.8 163.7L1194.5 164.9L1196.2 166.2L1197.9 167.4L1199.5 168.7L1201.1 170L1202.7 171.3L1204.3 172.7L1205.9 174L1207.4 175.4L1209 176.8L1210.5 178.2L1212 179.6L1213.5 181.1L1214.9 182.5L1216.4 184L1217.8 185.4L1219.3 186.9L1220.7 188.4L1222.1 189.9L1223.4 191.4L1224.8 192.9L1226.2 194.4L1227.5 196L1228.9 197.5L1230.2 199L1231.5 200.6L1232.8 202.1L1234.1 203.6L1235.4 205.2L1236.7 206.8L1237.9 208.4L1239.2 209.9L1240.4 211.5L1241.6 213.2L1242.7 214.8L1243.9 216.4L1245 218.1L1246.1 219.7L1247.2 221.4L1248.3 223.1L1249.3 224.8L1250.3 226.6L1251.3 228.3L1252.2 230.1L1253.1 231.9L1253.9 233.7L1254.7 235.6L1255.5 237.4L1256.2 239.3L1257 241.2L1257.7 243L1258.3 244.9L1259 246.8L1259.6 248.7L1260.1 250.6L1260.7 252.6L1261.2 254.5L1261.6 256.5L1262.1 258.4L1262.5 260.4L1262.9 262.3L1263.3 264.2L1263.6 266.2L1264 268.1L1264.3 270.1L1264.6 272L1264.8 274L1265 276L1265.2 277.9L1265.4 279.9L1265.5 281.8L1265.6 283.8L1265.6 285.8L1265.7 287.7L1265.6 289.7L1265.6 291.6L1265.5 293.6L1265.4 295.6L1265.2 297.5L1265 299.5L1264.8 301.4L1264.5 303.4L1264.2 305.4L1263.7 307.3L1263.2 309.3L1262.7 311.3L1262.1 313.3L1261.4 315.3L1260.6 317.2L1259.9 319.2L1259.1 321.1L1258.4 323L1257.6 324.9L1256.7 326.8L1255.8 328.6L1254.9 330.5L1253.8 332.3L1252.8 334.2L1251.7 336L1250.6 337.8L1249.4 339.6L1248.1 341.4L1246.7 343.1L1245.1 344.9L1243.6 346.6L1242.1 348.3L1240.5 350L1239 351.6L1237.5 353.2L1235.9 354.8L1234.2 356.3L1232.4 357.9L1230.6 359.4L1228.9 360.8L1227.4 362.2L1225.8 363.6L1224.4 365L1223.3 366.3L1222.3 367.6L1221.6 368.9L1221.2 370.1L1220.9 371.4L1221.2 372.7L1221.6 373.9L1222.3 375.2L1223.3 376.5L1224.4 377.8L1225.8 379.2L1227.4 380.6L1228.9 382L1230.6 383.4L1232.4 384.9L1234.2 386.5L1235.9 388L1237.5 389.6L1239 391.2L1240.5 392.8L1242.1 394.5L1243.6 396.2L1245.1 397.9L1246.7 399.7L1248.1 401.4L1249.4 403.2L1250.6 405L1251.7 406.8L1252.8 408.6L1253.8 410.5L1254.9 412.3L1255.8 414.2L1256.7 416L1257.6 417.9L1258.4 419.8L1259.1 421.7L1259.9 423.6L1260.6 425.6L1261.4 427.5L1262.1 429.5L1262.7 431.5L1263.2 433.5L1263.7 435.5L1264.2 437.4L1264.5 439.4L1264.8 441.4L1265 443.3L1265.2 445.3L1265.4 447.2L1265.5 449.2L1265.6 451.2L1265.6 453.1L1265.7 455.1L1265.6 457L1265.6 459L1265.5 461L1265.4 462.9L1265.2 464.9L1265 466.8L1264.8 468.8L1264.6 470.8L1264.3 472.7L1264 474.7L1263.6 476.6L1263.3 478.5L1262.9 480.5L1262.5 482.4L1262.1 484.4L1261.6 486.3L1261.2 488.3L1260.7 490.2L1260.1 492.2L1259.6 494.1L1259 496L1258.3 497.9L1257.7 499.8L1257 501.6L1256.2 503.5L1255.5 505.4L1254.7 507.2L1253.9 509.1L1253.1 510.9L1252.2 512.7L1251.3 514.5L1250.3 516.2L1249.3 518L1248.3 519.7L1247.2 521.4L1246.1 523.1L1245 524.7L1243.9 526.4L1242.7 528L1241.6 529.6L1240.4 531.3L1239.2 532.9L1237.9 534.4L1236.7 536L1235.4 537.6L1234.1 539.2L1232.8 540.7L1231.5 542.2L1230.2 543.8L1228.9 545.3L1227.5 546.8L1226.2 548.4L1224.8 549.9L1223.4 551.4L1222.1 552.9L1220.7 554.4L1219.3 555.9L1217.8 557.4L1216.4 558.8L1214.9 560.3L1213.5 561.7L1212 563.2L1210.5 564.6L1209 566L1207.4 567.4L1205.9 568.8L1204.3 570.1L1202.7 571.5L1201.1 572.8L1199.5 574.1L1197.9 575.4L1196.2 576.6L1194.5 577.9L1192.8 579.1L1191.1 580.3L1189.4 581.5L1187.7 582.7L1185.9 583.8L1184.2 585L1182.4 586.1L1180.6 587.2L1178.8 588.3L1177 589.4L1175.2 590.4L1173.4 591.4L1171.5 592.4L1169.7 593.4L1167.8 594.4L1165.9 595.3L1164 596.3L1162.1 597.2L1160.2 598.1L1158.3 598.9L1156.3 599.8L1154.4 600.6L1152.4 601.4L1150.5 602.2L1148.5 603L1146.5 603.7L1144.5 604.4L1142.5 605.2L1140.5 605.9L1138.5 606.5L1136.5 607.2L1134.5 607.8L1132.4 608.4L1130.4 609L1128.3 609.5L1126.3 610.1L1124.2 610.6L1122.1 611L1120 611.5L1118 611.9L1115.9 612.3L1113.8 612.7L1111.7 613.1L1109.6 613.5L1107.5 613.8L1105.4 614.1L1103.2 614.4L1101.1 614.7L1099 615L1096.9 615.2L1094.8 615.4L1092.6 615.6L1090.5 615.7L1088.4 615.9L1086.2 616L1084.1 616.1L1082 616.1L1079.8 616.2L1077.7 616.2L1075.6 616.2L1073.4 616.1L1071.3 616.1L1069.2 616L1067 615.9L1064.9 615.7L1062.8 615.6L1060.6 615.4L1058.5 615.2L1056.4 615L1054.3 614.7L1052.2 614.4L1050 614.1L1047.9 613.8L1045.8 613.5L1043.7 613.1L1041.6 612.7L1039.5 612.3L1037.4 611.9L1035.4 611.5L1033.3 611L1031.2 610.6L1029.1 610.1L1027.1 609.5L1025 609L1023 608.4L1020.9 607.8L1018.9 607.2L1016.9 606.5L1014.9 605.9L1012.9 605.2L1010.9 604.4L1008.9 603.7L1006.9 603L1004.9 602.2L1003 601.4L1001 600.6L999.1 599.8L997.1 598.9L995.2 598.1L993.3 597.2L991.4 596.3L989.5 595.3L987.6 594.4L985.7 593.4L983.9 592.4L982 591.4L980.2 590.4L978.4 589.4L976.6 588.3L974.8 587.2L973 586.1L971.2 585L969.5 583.8L967.7 582.7L966 581.5L964.3 580.3L962.6 579.1L960.9 577.9L959.2 576.6L957.5 575.4L955.9 574.1L954.3 572.8L952.7 571.5L951.1 570.1L949.5 568.8L948 567.4L946.4 566L944.9 564.6L943.4 563.2L941.9 561.7L940.5 560.3L939 558.8L937.6 557.4L936.1 555.9L934.7 554.4L933.3 552.9L932 551.4L930.6 549.9L929.2 548.4L927.9 546.8L926.5 545.3L925.2 543.8L923.9 542.2L922.6 540.7L921.3 539.2L920 537.6L918.7 536L917.5 534.4L916.2 532.9L915 531.3L913.8 529.6L912.7 528L911.5 526.4L910.4 524.7L909.3 523.1L908.2 521.4L907.1 519.7L906.1 518L905.1 516.2L904.1 514.5L903.2 512.7L902.3 510.9L901.5 509.1L900.7 507.2L899.9 505.4L899.2 503.5L898.4 501.6L897.7 499.8L897.1 497.9L896.4 496L895.8 494.1L895.3 492.2L894.7 490.2L894.2 488.3L893.8 486.3L893.3 484.4L892.9 482.4L892.5 480.5L892.1 478.6L891.8 476.6L891.4 474.7L891.1 472.7L890.8 470.8L890.6 468.8L890.4 466.8L890.2 464.9L890 462.9L889.9 461L889.8 459L889.8 457L889.7 455.1L889.8 453.1L889.8 451.2L889.9 449.2L890 447.2L890.2 445.3L890.4 443.3L890.6 441.4L890.9 439.4L891.2 437.4L891.7 435.5L892.2 433.5L892.7 431.5L893.3 429.5L894 427.5L894.8 425.6L895.5 423.6L896.3 421.7L897 419.8L897.8 417.9L898.7 416L899.6 414.2L900.5 412.3L901.6 410.5L902.6 408.6L903.7 406.8L904.8 405L906 403.2L907.3 401.4L908.7 399.7L910.3 397.9L911.8 396.2L913.3 394.5L914.9 392.8L916.4 391.2L917.9 389.6L919.5 388L921.2 386.5L923 384.9L924.8 383.4L926.5 382L928 380.6L929.6 379.2L931 377.8L932.1 376.5L933.1 375.2L933.8 373.9L934.2 372.7L934.5 371.4L934.2 370.1L933.8 368.9L933.1 367.6L932.1 366.3L931 365L929.6 363.6L928 362.2L926.5 360.8L924.8 359.4L923 357.9L921.2 356.3L919.5 354.8L917.9 353.2L916.4 351.6L914.9 350L913.3 348.3L911.8 346.6L910.3 344.9L908.7 343.1L907.3 341.4L906 339.6L904.8 337.8L903.7 336L902.6 334.2L901.6 332.3L900.5 330.5L899.6 328.6L898.7 326.8L897.8 324.9L897 323L896.3 321.1L895.5 319.2L894.8 317.2L894 315.3L893.3 313.3L892.7 311.3L892.2 309.3L891.7 307.3L891.2 305.4L890.9 303.4L890.6 301.4L890.4 299.5L890.2 297.5L890 295.6L889.9 293.6L889.8 291.6L889.8 289.7L889.7 287.7L889.8 285.8L889.8 283.8L889.9 281.8L890 279.9L890.2 277.9L890.4 276L890.6 274L890.8 272L891.1 270.1L891.4 268.1L891.8 266.2L892.1 264.2L892.5 262.3L892.9 260.4L893.3 258.4L893.8 256.5L894.2 254.5L894.7 252.6L895.3 250.6L895.8 248.7L896.4 246.8L897.1 244.9L897.7 243L898.4 241.2L899.2 239.3L899.9 237.4L900.7 235.6L901.5 233.7L902.3 231.9L903.2 230.1L904.1 228.3L905.1 226.6L906.1 224.8L907.1 223.1L908.2 221.4L909.3 219.7L910.4 218.1L911.5 216.4L912.7 214.8L913.8 213.2L915 211.5L916.2 209.9L917.5 208.4L918.7 206.8L920 205.2L921.3 203.6L922.6 202.1L923.9 200.6L925.2 199L926.5 197.5L927.9 196L929.2 194.4L930.6 192.9L932 191.4L933.3 189.9L934.7 188.4L936.1 186.9L937.6 185.4L939 184L940.5 182.5L941.9 181.1L943.4 179.6L944.9 178.2L946.4 176.8L948 175.4L949.5 174L951.1 172.7L952.7 171.3L954.3 170L955.9 168.7L957.5 167.4L959.2 166.2L960.9 164.9L962.6 163.7L964.3 162.5L966 161.3L967.7 160.1L969.5 159L971.2 157.8L973 156.7L974.8 155.6L976.6 154.5L978.4 153.4L980.2 152.4L982 151.4L983.9 150.4L985.7 149.4L987.6 148.4L989.5 147.5L991.4 146.5L993.3 145.6L995.2 144.7L997.1 143.9L999.1 143L1001 142.2L1003 141.4L1004.9 140.6L1006.9 139.8L1008.9 139.1L1010.9 138.4L1012.9 137.6L1014.9 136.9L1016.9 136.3L1018.9 135.6L1020.9 135L1023 134.4L1025 133.8L1027.1 133.3L1029.1 132.7L1031.2 132.2L1033.3 131.8L1035.4 131.3L1037.4 130.9L1039.5 130.5L1041.6 130.1L1043.7 129.7L1045.8 129.3L1047.9 129L1050 128.7L1052.2 128.4L1054.3 128.1L1056.4 127.8L1058.5 127.6L1060.6 127.4L1062.8 127.2L1064.9 127.1L1067 126.9L1069.2 126.8L1071.3 126.7L1073.4 126.7L1075.6 126.6Z" stroke="#ff0000" fill="none" stroke-width="2.45" stroke-linejoin="round" clip-path="url(#clip-b)" stroke-dasharray="7.6 7.45"/>
<path d="M1077.7 132.1C1090.3 132.2 1106.6 134.7 1119 136.9C1131.5 139.1 1147.7 142.2 1159.5 146.6C1171.3 151.1 1185.8 159.1 1196.2 166.1C1206.7 173.1 1219.4 183.4 1227.9 192.5C1236.3 201.5 1245.7 214.8 1251.7 225.4C1257.8 236 1262.7 251 1267.3 261.9C1271.8 272.9 1278.9 286.1 1281.4 297.3C1284 308.4 1290 323.7 1283.9 335C1277.9 346.4 1243.8 360.6 1241.9 371.4C1240 382.2 1266.8 394.8 1271.4 405.6C1276 416.3 1272.9 430.8 1271.8 442.1C1270.8 453.3 1268 468 1264.8 479.4C1261.6 490.8 1256.4 505.7 1250.8 516.7C1245.3 527.6 1236.5 541.5 1228.4 551C1220.3 560.6 1208 571.6 1197.7 579.2C1187.4 586.9 1173 595.7 1161.3 601C1149.5 606.3 1133.2 611.4 1120.5 614.1C1107.7 616.7 1090.7 618.2 1077.7 618.1C1064.7 618 1047.7 616.2 1035.1 613.3C1022.4 610.4 1006.5 604.4 994.9 599C983.2 593.6 968.8 585.2 958.5 577.8C948.3 570.4 936.1 559.4 927.5 550.3C919 541.3 908.8 528.9 902.4 518.5C896.1 508.1 888.2 494 885.9 482.2C883.5 470.3 887 452.5 887.1 440.8C887.3 429 881.5 415.6 886.8 405.1C892.2 394.5 921.6 381.5 922.3 371.4C923 361.3 896.8 349.1 891.4 338.5C886 327.9 886.8 313.3 886.8 301.9C886.9 290.6 889.1 275.6 891.9 264.1C894.8 252.7 899.7 237.4 905.5 226.9C911.3 216.4 921.9 204.7 930.1 195.4C938.2 186.2 949.1 173.5 959.2 166.2C969.3 158.8 984.4 152 996.2 147.4C1007.9 142.8 1023.8 138.4 1036.2 136C1048.6 133.7 1065.1 132 1077.7 132.1Z" stroke="#ff0000" fill="none" stroke-width="2.45" stroke-linejoin="round" clip-path="url(#clip-b)" stroke-dasharray="7.6 7.45"/>
<path d="M1074.1 128.5L1081.3 135.7M1074.1 135.7L1081.3 128.5M1115.4 133.3L1122.6 140.5M1115.4 140.5L1122.6 133.3M1155.9 143L1163.1 150.2M1155.9 150.2L1163.1 143M1192.6 162.5L1199.8 169.7M1192.6 169.7L1199.8 162.5M1224.3 188.9L1231.5 196.1M1224.3 196.1L1231.5 188.9M1248.1 221.8L1255.3 229M1248.1 229L1255.3 221.8M1263.7 258.3L1270.9 265.5M1263.7 265.5L1270.9 258.3M1277.8 293.7L1285 300.9M1277.8 300.9L1285 293.7M1280.3 331.4L1287.5 338.6M1280.3 338.6L1287.5 331.4M1238.3 367.8L1245.5 375M1238.3 375L1245.5 367.8M1267.8 402L1275 409.2M1267.8 409.2L1275 402M1268.2 438.5L1275.4 445.7M1268.2 445.7L1275.4 438.5M1261.2 475.8L1268.4 483M1261.2 483L1268.4 475.8M1247.2 513.1L1254.4 520.3M1247.2 520.3L1254.4 513.1M1224.8 547.4L1232 554.6M1224.8 554.6L1232 547.4M1194.1 575.6L1201.3 582.8M1194.1 582.8L1201.3 575.6M1157.7 597.4L1164.9 604.6M1157.7 604.6L1164.9 597.4M1116.9 610.5L1124.1 617.7M1116.9 617.7L1124.1 610.5M1074.1 614.5L1081.3 621.7M1074.1 621.7L1081.3 614.5M1031.5 609.7L1038.7 616.9M1031.5 616.9L1038.7 609.7M991.3 595.4L998.5 602.6M991.3 602.6L998.5 595.4M954.9 574.2L962.1 581.4M954.9 581.4L962.1 574.2M923.9 546.7L931.1 553.9M923.9 553.9L931.1 546.7M898.8 514.9L906 522.1M898.8 522.1L906 514.9M882.3 478.6L889.5 485.8M882.3 485.8L889.5 478.6M883.5 437.2L890.7 444.4M883.5 444.4L890.7 437.2M883.2 401.5L890.4 408.7M883.2 408.7L890.4 401.5M918.7 367.8L925.9 375M918.7 375L925.9 367.8M887.8 334.9L895 342.1M887.8 342.1L895 334.9M883.2 298.3L890.4 305.5M883.2 305.5L890.4 298.3M888.3 260.5L895.5 267.8M888.3 267.8L895.5 260.5M901.9 223.3L909.1 230.5M901.9 230.5L909.1 223.3M926.5 191.8L933.7 199M926.5 199L933.7 191.8M955.6 162.6L962.8 169.8M955.6 169.8L962.8 162.6M992.6 143.8L999.8 151M992.6 151L999.8 143.8M1032.6 132.4L1039.8 139.6M1032.6 139.6L1039.8 132.4" stroke="#ff0000" stroke-width="2.35" fill="none"/>
<text class="cap" text-anchor="middle" x="1076.4" y="680.6" textLength="34" lengthAdjust="spacing">(b)</text>
</g>
</svg></body></html>
